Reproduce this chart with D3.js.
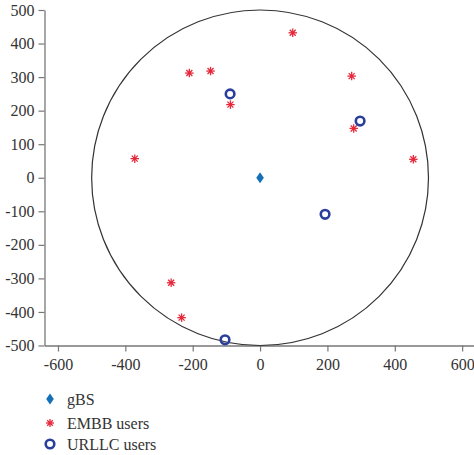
<!DOCTYPE html>
<html><head><meta charset="utf-8">
<script src="https://cdn.jsdelivr.net/npm/d3@7"></script>
<style>
html,body{margin:0;padding:0;background:#fff;}
svg{display:block;}
text{font-family:"Liberation Serif","DejaVu Serif",serif;}
</style></head>
<body>
<svg id="chart" width="474" height="455"></svg>
<script>
const xTicks = [-600,-400,-200,0,200,400,600];
const yTicks = [500,400,300,200,100,0,-100,-200,-300,-400,-500];
const cellRadius = 500;
const gbs = [{x:0,y:0}];
const embbX = [-372,-210,-147,-88,97,272,278,455,-264,-233];
const embbY = [57,312,318,218,432,303,147,55,-313,-417];
const urllcX = [-89,297,193,-104];
const urllcY = [250,169,-109,-483];
const legendLabels = ["gBS","EMBB users","URLLC users"];

const embb = embbX.map((x,i)=>({x, y:embbY[i]}));
const urllc = urllcX.map((x,i)=>({x, y:urllcY[i]}));

const svg = d3.select("#chart");
const x = d3.scaleLinear().domain([-640,650]).range([44.5,479]);
const y = d3.scaleLinear().domain([-500,500]).range([345.5,10]);

const axisColor = "#777";
const textColor = "#333";

const gx = svg.append("g").attr("transform",`translate(0,${y(-500)})`)
  .call(d3.axisBottom(x).tickValues(xTicks).tickSize(6).tickSizeOuter(0).tickFormat(d=>String(d)));
const gy = svg.append("g").attr("transform",`translate(${x(-640)},0)`)
  .call(d3.axisLeft(y).tickValues(yTicks).tickSize(6).tickSizeOuter(0).tickFormat(d=>String(d)));
[gx,gy].forEach(g=>{
  g.select(".domain").attr("stroke",axisColor).attr("stroke-width",1.3);
  g.selectAll(".tick line").attr("stroke",axisColor).attr("stroke-width",1.2);
  g.selectAll(".tick text").attr("fill",textColor).style("font-size","16px")
   .style("font-family","'Liberation Serif','DejaVu Serif',serif");
});
gx.selectAll(".tick text").attr("dy","0.95em");
gy.selectAll(".tick text").attr("x",-10).attr("dy","0.32em");

svg.append("ellipse")
  .attr("cx",x(0)).attr("cy",y(0))
  .attr("rx",x(cellRadius)-x(0)).attr("ry",y(0)-y(cellRadius))
  .attr("fill","none").attr("stroke","#333").attr("stroke-width",1.2);

const red = "#e5283a", blue = "#2a3f9b", diaBlue = "#1471b8";

function asterisk(g, size){
  const r = size/2;
  for(let k=0;k<4;k++){
    const a = k*Math.PI/4;
    g.append("line").attr("x1",-r*Math.cos(a)).attr("y1",-r*Math.sin(a))
      .attr("x2",r*Math.cos(a)).attr("y2",r*Math.sin(a))
      .attr("stroke",red).attr("stroke-width",1.3);
  }
  g.append("circle").attr("r",1.6).attr("fill",red);
}
function diamond(g){
  g.append("path").attr("d","M0,-5.5L3.8,0L0,5.5L-3.8,0Z").attr("fill",diaBlue);
}
function ring(g){
  g.append("circle").attr("r",4.3).attr("fill","none").attr("stroke",blue).attr("stroke-width",2.6);
}

svg.append("g").selectAll("g").data(embb).join("g")
  .attr("transform",d=>`translate(${x(d.x)},${y(d.y)})`).each(function(){asterisk(d3.select(this),8.5);});
svg.append("g").selectAll("g").data(urllc).join("g")
  .attr("transform",d=>`translate(${x(d.x)},${y(d.y)})`).each(function(){ring(d3.select(this));});
svg.append("g").selectAll("g").data(gbs).join("g")
  .attr("transform",d=>`translate(${x(d.x)},${y(d.y)})`).each(function(){diamond(d3.select(this));});

const legY = [399,423,444];
const leg = svg.append("g");
legendLabels.forEach((lab,i)=>{
  const g = leg.append("g").attr("transform",`translate(50,${legY[i]})`);
  if(i===0) diamond(g); else if(i===1) asterisk(g,8); else ring(g);
  leg.append("text").attr("x",67).attr("y",legY[i]).attr("dy","0.35em")
    .attr("fill",textColor).style("font-size","16px").text(lab);
});
</script>
</body></html>
